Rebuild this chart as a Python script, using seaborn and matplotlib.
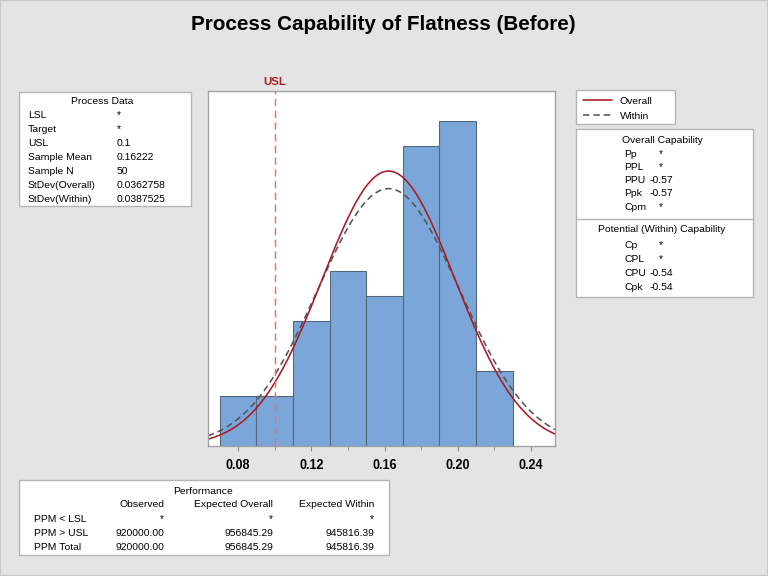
import numpy as np
import pandas as pd
import matplotlib.pyplot as plt
import seaborn as sns
from matplotlib.patches import Rectangle
from matplotlib.lines import Line2D

# Histogram data (bins of width 0.02)
bin_edges = [0.07, 0.09, 0.11, 0.13, 0.15, 0.17, 0.19, 0.21, 0.23]
counts = [2, 2, 5, 7, 6, 12, 13, 3]

# Process data
usl = 0.1
sample_mean = 0.16222
sample_n = 50
sd_overall = 0.0362758
sd_within = 0.0387525

process_labels = ['LSL', 'Target', 'USL', 'Sample Mean', 'Sample N', 'StDev(Overall)', 'StDev(Within)']
process_values = ['*', '*', '0.1', '0.16222', '50', '0.0362758', '0.0387525']

overall_labels = ['Pp', 'PPL', 'PPU', 'Ppk', 'Cpm']
overall_values = ['*', '*', '-0.57', '-0.57', '*']
within_labels = ['Cp', 'CPL', 'CPU', 'Cpk']
within_values = ['*', '*', '-0.54', '-0.54']

perf_rows = ['PPM < LSL', 'PPM > USL', 'PPM Total']
perf_cols = ['Observed', 'Expected Overall', 'Expected Within']
perf_observed = ['*', '920000.00', '920000.00']
perf_exp_overall = ['*', '956845.29', '956845.29']
perf_exp_within = ['*', '945816.39', '945816.39']

x_ticks = [0.08, 0.12, 0.16, 0.20, 0.24]

sns.set_style('white')
plt.rcParams['font.family'] = ['Liberation Sans', 'DejaVu Sans']
plt.rcParams['text.color'] = 'black'
plt.rcParams['text.hinting'] = 'native'

W, H = 768, 576
bg = '#e4e4e4'
fig = plt.figure(figsize=(8, 6), dpi=96, facecolor=bg)


def fx(x):
    return x / W


def fy(y):
    return 1 - y / H


# main histogram axes
ax = fig.add_axes([fx(208), fy(446), fx(555) - fx(208), fy(91) - fy(446)])
ax.set_facecolor('white')

mids = [(a + b) / 2 for a, b in zip(bin_edges[:-1], bin_edges[1:])]
sns.histplot(x=mids, weights=counts, bins=bin_edges, color='#7ba6d9', alpha=1,
             edgecolor='#55657a', linewidth=0.8, ax=ax)

# fitted normal curves scaled to counts
width = bin_edges[1] - bin_edges[0]
xs = np.linspace(0.0636, 0.2531, 300)
curves = pd.DataFrame({
    'x': xs,
    'overall': sample_n * width * np.exp(-0.5 * ((xs - sample_mean) / sd_overall) ** 2) / (sd_overall * np.sqrt(2 * np.pi)),
    'within': sample_n * width * np.exp(-0.5 * ((xs - sample_mean) / sd_within) ** 2) / (sd_within * np.sqrt(2 * np.pi)),
})
sns.lineplot(data=curves, x='x', y='within', color='#555555', linestyle=(0, (4, 2.5)), linewidth=1.2, ax=ax)
sns.lineplot(data=curves, x='x', y='overall', color='#a81c24', linewidth=1.2, ax=ax)

ax.axvline(usl, color='#f26d6d', linestyle=(0, (5, 3)), linewidth=1.1)
ax.text(usl, 14.35, 'USL', color='#a81c24', fontsize=8.5, fontweight='bold', ha='center', va='bottom')

ax.set_xlim(0.0636, 0.2531)
ax.set_ylim(0, 14.2)
ax.set_xticks(x_ticks)
ax.set_xticklabels([f'{t:.2f}' for t in x_ticks], fontsize=9.5, fontweight='bold', color='black')
ax.set_xticks([0.10, 0.14, 0.18, 0.22], minor=True)
ax.set_yticks([])
ax.set_xlabel('')
ax.set_ylabel('')
ax.tick_params(axis='x', which='major', direction='out', length=4, color='#888888', bottom=True, pad=6)
ax.tick_params(axis='x', which='minor', direction='out', length=3, color='#888888', bottom=True)
for s in ax.spines.values():
    s.set_color('#a0a0a0')
    s.set_linewidth(1)

fig.text(fx(383), fy(25), 'Process Capability of Flatness (Before)', fontsize=15.5,
         fontweight='bold', ha='center', va='center')

fs = 7.8


def box(x0, y0, x1, y1):
    fig.add_artist(Rectangle((fx(x0), fy(y1)), fx(x1) - fx(x0), fy(y0) - fy(y1),
                             transform=fig.transFigure, facecolor='white',
                             edgecolor='#b4b4b4', linewidth=1))


def txt(x, y, s, ha='left'):
    # y is the visual centre of capital letters, in pixels from the top
    fig.text(fx(x), fy(round(y + 3.8)), s, fontsize=fs, ha=ha, va='baseline')


# Process Data box
box(19, 92, 191, 206)
txt(102, 100, 'Process Data', ha='center')
for i, (lab, val) in enumerate(zip(process_labels, process_values)):
    y = 114.5 + i * 14
    txt(28, y, lab)
    txt(117, y, val)

# legend box
box(576, 90, 675, 124)
fig.add_artist(Line2D([fx(583), fx(612)], [fy(100), fy(100)], transform=fig.transFigure,
                      color='#a81c24', linewidth=1.2))
fig.add_artist(Line2D([fx(583), fx(612)], [fy(115), fy(115)], transform=fig.transFigure,
                      color='#555555', linewidth=1.2, linestyle=(0, (4, 2.5))))
txt(620, 100, 'Overall')
txt(620, 115, 'Within')

# capability box
box(576, 129, 753, 297)
fig.add_artist(Line2D([fx(576), fx(753)], [fy(219), fy(219)], transform=fig.transFigure,
                      color='#b4b4b4', linewidth=1))
txt(662, 139, 'Overall Capability', ha='center')
for i, (lab, val) in enumerate(zip(overall_labels, overall_values)):
    y = 153 + i * 13.2
    txt(624, y, lab)
    txt(650 if val != '*' else 659, y, val)
txt(662, 228, 'Potential (Within) Capability', ha='center')
for i, (lab, val) in enumerate(zip(within_labels, within_values)):
    y = 244 + i * 14.2
    txt(624, y, lab)
    txt(650 if val != '*' else 659, y, val)

# performance box
box(19, 480, 389, 555)
txt(203, 490, 'Performance', ha='center')
col_right = [164, 273, 374]
for xr, head in zip(col_right, perf_cols):
    txt(xr, 503, head, ha='right')
for i, lab in enumerate(perf_rows):
    y = 518 + i * 14
    txt(34, y, lab)
    for xr, col in zip(col_right, [perf_observed, perf_exp_overall, perf_exp_within]):
        txt(xr, y, col[i], ha='right')

# outer frame
fig.add_artist(Rectangle((0, 0), 1, 1, transform=fig.transFigure, fill=False,
                         edgecolor='#c8c8c8', linewidth=1.5))

plt.savefig('out.png', dpi=96, facecolor=bg)
